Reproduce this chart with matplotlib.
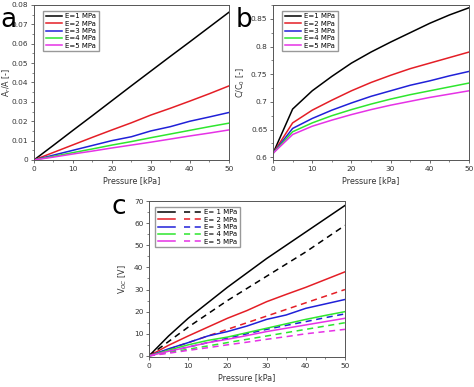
import numpy as np
import matplotlib
matplotlib.use("Agg")
import matplotlib.pyplot as plt
from matplotlib.ticker import MultipleLocator
from matplotlib.legend_handler import HandlerTuple

# ---- data ----
pressure = [0, 5, 10, 15, 20, 25, 30, 35, 40, 45, 50]
labels_ab = ["E=1 MPa", "E=2 MPa", "E=3 MPa", "E=4 MPa", "E=5 MPa"]
labels_c = ["E= 1 MPa", "E= 2 MPa", "E= 3 MPa", "E= 4 MPa", "E= 5 MPa"]
colors = ["#000000", "#e41e26", "#2020d8", "#2ee62e", "#e632e6"]

area_ratio = [
    [0, 0.0076, 0.0153, 0.0229, 0.0306, 0.0383, 0.0459, 0.0535, 0.0610, 0.0686, 0.0762],
    [0, 0.0039, 0.0078, 0.0117, 0.0155, 0.0192, 0.0232, 0.0267, 0.0304, 0.0342, 0.0382],
    [0, 0.0025, 0.0050, 0.0075, 0.0100, 0.0120, 0.0150, 0.0172, 0.0200, 0.0222, 0.0245],
    [0, 0.0019, 0.0038, 0.0057, 0.0077, 0.0095, 0.0115, 0.0134, 0.0153, 0.0172, 0.0190],
    [0, 0.0015, 0.0031, 0.0046, 0.0062, 0.0077, 0.0092, 0.0108, 0.0124, 0.0139, 0.0155],
]

cap_ratio = [
    [0.607, 0.687, 0.720, 0.746, 0.770, 0.790, 0.808, 0.825, 0.842, 0.857, 0.870],
    [0.607, 0.662, 0.685, 0.703, 0.720, 0.735, 0.748, 0.760, 0.770, 0.780, 0.790],
    [0.607, 0.652, 0.670, 0.685, 0.698, 0.710, 0.720, 0.730, 0.738, 0.747, 0.755],
    [0.607, 0.646, 0.662, 0.675, 0.686, 0.696, 0.705, 0.713, 0.720, 0.727, 0.734],
    [0.607, 0.641, 0.656, 0.667, 0.677, 0.686, 0.694, 0.701, 0.708, 0.714, 0.720],
]

voc_solid = [
    [0, 9.0, 17.0, 24.0, 31.0, 37.5, 44.0, 50.0, 56.0, 62.0, 68.0],
    [0, 4.8, 9.0, 13.0, 17.0, 20.5, 24.5, 27.8, 31.0, 34.5, 38.0],
    [0, 3.2, 6.0, 9.0, 11.0, 13.5, 16.5, 18.5, 21.5, 23.5, 25.5],
    [0, 2.6, 5.0, 7.0, 8.5, 10.5, 12.5, 14.5, 16.5, 18.3, 20.0],
    [0, 2.1, 4.0, 6.0, 7.5, 9.2, 11.0, 12.5, 14.0, 15.5, 17.0],
]
voc_dashed = [
    [0, 6.5, 13.0, 19.0, 25.0, 30.5, 36.0, 41.5, 47.0, 53.0, 59.0],
    [0, 3.0, 6.0, 9.0, 12.0, 15.0, 18.0, 21.0, 24.0, 27.0, 30.0],
    [0, 2.0, 4.0, 6.0, 8.0, 10.0, 12.0, 13.8, 15.5, 17.3, 19.0],
    [0, 1.5, 3.0, 4.5, 6.0, 7.5, 9.0, 10.5, 12.0, 13.5, 15.0],
    [0, 1.2, 2.5, 3.7, 5.0, 6.2, 7.5, 8.7, 10.0, 11.0, 12.0],
]

fs_tick = 5.3
fs_lab = 5.8
fs_leg = 5.0
spine_col = "#555555"
txt_col = "#333333"


def style(ax, ymaj, ymin):
    ax.set_xlim(0, 50)
    ax.xaxis.set_major_locator(MultipleLocator(10))
    ax.xaxis.set_minor_locator(MultipleLocator(5))
    ax.yaxis.set_major_locator(MultipleLocator(ymaj))
    ax.yaxis.set_minor_locator(MultipleLocator(ymin))
    ax.tick_params(which="both", direction="out", top=False, right=False,
                   labelsize=fs_tick, colors=spine_col, labelcolor=txt_col, pad=1.5)
    ax.tick_params(which="major", length=2.5, width=0.6)
    ax.tick_params(which="minor", length=1.5, width=0.5)
    for s in ax.spines.values():
        s.set_color(spine_col)
        s.set_linewidth(0.7)
    ax.set_xlabel("Pressure [kPa]", fontsize=fs_lab, color=txt_col, labelpad=3)


def legend(ax, *args, **kw):
    return ax.legend(*args, loc="upper left", fontsize=fs_leg, borderpad=0.35,
                     labelspacing=0.2, handletextpad=0.5, fancybox=False,
                     edgecolor="#999999", framealpha=1, **kw)


fig = plt.figure(figsize=(4.74, 3.87), dpi=100)
ax_a = fig.add_axes([0.0717, 0.5866, 0.411, 0.4005])
ax_b = fig.add_axes([0.576, 0.5866, 0.4135, 0.4005])
ax_c = fig.add_axes([0.3143, 0.0775, 0.4135, 0.4030])

# a
for y, c, l in zip(area_ratio, colors, labels_ab):
    ax_a.plot(pressure, y, color=c, lw=1.1, label=l)
style(ax_a, 0.01, 0.005)
ax_a.set_ylim(0, 0.08)
ax_a.set_yticks(np.arange(0, 0.081, 0.01))
ax_a.set_yticklabels(["0", "0.01", "0.02", "0.03", "0.04", "0.05", "0.06", "0.07", "0.08"])
ax_a.set_ylabel("A$_r$/A [-]", fontsize=fs_lab, color=txt_col)
ax_a.yaxis.set_label_coords(-0.11, 0.5)
legend(ax_a, handlelength=2.3, bbox_to_anchor=(0.03, 0.985))

# b
for y, c, l in zip(cap_ratio, colors, labels_ab):
    ax_b.plot(pressure, y, color=c, lw=1.1, label=l)
style(ax_b, 0.05, 0.025)
ax_b.set_ylim(0.595, 0.875)
ax_b.set_yticks([0.6, 0.65, 0.7, 0.75, 0.8, 0.85])
ax_b.set_yticklabels(["0.6", "0.65", "0.7", "0.75", "0.8", "0.85"])
ax_b.set_ylabel("C/C$_0$ [-]", fontsize=fs_lab, color=txt_col)
ax_b.yaxis.set_label_coords(-0.135, 0.5)
legend(ax_b, handlelength=2.3, bbox_to_anchor=(0.03, 0.985))

# c
handles = []
for ys, yd, c in zip(voc_solid, voc_dashed, colors):
    h1, = ax_c.plot(pressure, ys, color=c, lw=1.1)
    h2, = ax_c.plot(pressure, yd, color=c, lw=1.1, ls=(0, (4, 3)))
    handles.append((h1, h2))
style(ax_c, 10, 5)
ax_c.set_ylim(-0.5, 70)
ax_c.set_ylabel("V$_{OC}$ [V]", fontsize=fs_lab, color=txt_col)
ax_c.yaxis.set_label_coords(-0.1, 0.5)
legend(ax_c, handles, labels_c, handler_map={tuple: HandlerTuple(ndivide=None, pad=1.2)},
       handlelength=6.2, bbox_to_anchor=(0.015, 0.985))

# panel letters
fig.text(0.0, 0.948, "a", fontsize=19, va="center", ha="left")
fig.text(0.497, 0.948, "b", fontsize=19, va="center", ha="left")
fig.text(0.236, 0.465, "c", fontsize=19, va="center", ha="left")

fig.savefig("out.png", dpi=100)
